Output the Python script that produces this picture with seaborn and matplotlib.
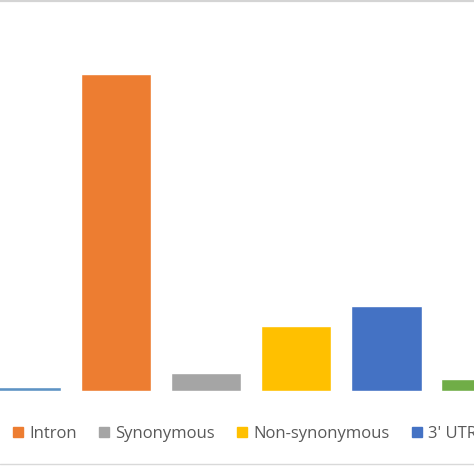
import matplotlib
matplotlib.use("Agg")
import matplotlib.pyplot as plt
from matplotlib.lines import Line2D
import seaborn as sns

# SNP counts by annotation class
categories = ["5' UTR", "Intron", "Synonymous", "Non-synonymous", "3' UTR", "Other"]
counts = [15, 1270, 72, 260, 340, 48]
colors = ["#5E93C4", "#ED7D31", "#A5A5A5", "#FFC000", "#4472C4", "#70AD47"]

sns.set_style("white")
plt.rcParams["font.family"] = ["Open Sans", "DejaVu Sans"]

W = 474
fig = plt.figure(figsize=(4.74, 4.74), dpi=100)
# axes extend past the figure edges: the reference is a crop of a wider chart
ax = fig.add_axes([-19.05 / W, 83 / W, 540.6 / W, 391 / W])
sns.barplot(x=categories, y=counts, hue=categories, palette=colors,
            width=0.78, dodge=False, legend=False, saturation=1, ax=ax)
ax.set_xlim(-0.5, 5.5)
ax.set_ylim(0, 1564)
ax.axis("off")

handles = [Line2D([], [], marker="s", linestyle="", color=c, markersize=7.2)
           for c in colors]
leg_y = (W - 433.5) / W
leg = fig.legend(handles, categories, loc="center left", bbox_to_anchor=(0, leg_y),
                 ncol=6, frameon=False, fontsize=12, labelcolor="#595959",
                 handlelength=0.6, handletextpad=0.36, columnspacing=1.35,
                 borderpad=0, borderaxespad=0)

# shift legend so that "Intron" text starts where it does in the reference
fig.canvas.draw()
ext = leg.get_texts()[1].get_window_extent()
dx = (29 - ext.x0) / W
leg.set_bbox_to_anchor((dx, leg_y), transform=fig.transFigure)

# chart-area border remnants
fig.add_artist(Line2D([0, 1], [1 - 1 / W, 1 - 1 / W], transform=fig.transFigure,
                      color="#D4D4D4", lw=1.6))
fig.add_artist(Line2D([0, 1], [10 / W, 10 / W], transform=fig.transFigure,
                      color="#D9D9D9", lw=1.0))

fig.savefig("out.png", dpi=100)
